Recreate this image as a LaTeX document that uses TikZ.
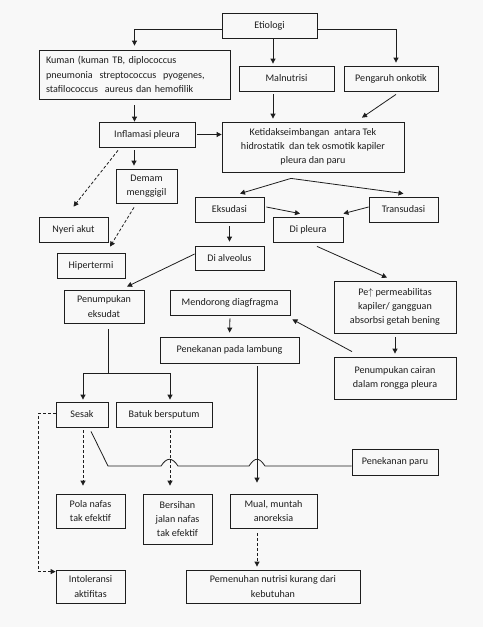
\documentclass[tikz,border=0pt]{standalone}
\usepackage{fontspec}
\setmainfont{Carlito}
\usetikzlibrary{arrows.meta}
\definecolor{bg}{RGB}{248,248,248}
\definecolor{ink}{RGB}{30,30,30}
\begin{document}
\begin{tikzpicture}[x=1pt,y=-1pt,
  box/.style={draw=ink, line width=0.8pt, inner sep=0pt, align=center, text=ink,
    font=\fontsize{10.1}{14.3}\selectfont},
  arr/.style={draw=ink, line width=0.8pt, -{Triangle[length=5pt,width=5pt]}},
  darr/.style={arr, dash pattern=on 3pt off 2pt},
  ln/.style={draw=ink, line width=0.8pt}]
\fill[bg] (0,0) rectangle (483,627);
\useasboundingbox (0,0) rectangle (483,627);

% boxes
\node[box, minimum width=95pt, minimum height=25pt] (etio) at (269.5,25.5) {Etiologi};
\node[box, minimum height=49pt, inner xsep=7pt, text width=177pt, align=left] (kuman) at (134.5,74.5)
  {Kuman (kuman TB, diplococcus\\pneumonia\ \ streptococcus\ \ pyogenes,\\stafilococcus\ \ aureus dan hemofilik};
\node[box, minimum width=95pt, minimum height=25pt] (maln) at (286.5,78.5) {Malnutrisi};
\node[box, minimum width=94pt, minimum height=25pt] (peng) at (391,78.5) {Pengaruh onkotik};
\node[box, minimum width=96pt, minimum height=25pt] (infl) at (147,134.5) {Inflamasi pleura};
\node[box, minimum width=182pt, minimum height=50pt] (ketid) at (313,147)
  {Ketidakseimbangan\ \ antara Tek\\hidrostatik\ \ dan tek osmotik kapiler\\pleura dan paru};
\node[box, minimum width=61pt, minimum height=34pt] (demam) at (146.5,186) {Demam\\menggigil};
\node[box, minimum width=69pt, minimum height=25pt] (nyeri) at (73.5,229.5) {Nyeri akut};
\node[box, minimum width=68pt, minimum height=25pt] (hiper) at (91,265.5) {Hipertermi};
\node[box, minimum width=69pt, minimum height=25pt] (eksud) at (229.5,209.5) {Eksudasi};
\node[box, minimum width=69pt, minimum height=25pt] (trans) at (403.5,209.5) {Transudasi};
\node[box, minimum width=70pt, minimum height=25pt] (dipl) at (308,229.5) {Di pleura};
\node[box, minimum width=69pt, minimum height=24pt] (dialv) at (229.5,258) {Di alveolus};
\node[box, minimum width=80pt, minimum height=33pt] (penum) at (104,306.5) {Penumpukan\\eksudat};
\node[box, minimum width=120pt, minimum height=25pt] (mendo) at (230,302.5) {Mendorong diagfragma};
\node[box, minimum width=122pt, minimum height=52pt] (pe) at (395,307)
  {Pe$\uparrow$ permeabilitas\\kapiler/ gangguan\\absorbsi getah bening};
\node[box, minimum width=139pt, minimum height=26pt] (lamb) at (229.5,350) {Penekanan pada lambung};
\node[box, minimum width=122pt, minimum height=42pt] (cair) at (395,378) {Penumpukan cairan\\dalam rongga pleura};
\node[box, minimum width=52pt, minimum height=25pt] (sesak) at (82,414.5) {Sesak};
\node[box, minimum width=96pt, minimum height=25pt] (batuk) at (164,414.5) {Batuk bersputum};
\node[box, minimum width=86pt, minimum height=26pt] (paru) at (395,462) {Penekanan paru};
\node[box, minimum width=69pt, minimum height=34pt] (pola) at (90.5,511) {Pola nafas\\tak efektif};
\node[box, minimum width=69pt, minimum height=50pt] (bers) at (177.5,519) {Bersihan\\jalan nafas\\tak efektif};
\node[box, minimum width=87pt, minimum height=34pt] (mual) at (273.5,511) {Mual, muntah\\anoreksia};
\node[box, minimum width=69pt, minimum height=33pt] (intol) at (90.5,586.5) {Intoleransi\\aktifitas};
\node[box, minimum width=174pt, minimum height=33pt] (pemen) at (273,586.5) {Pemenuhan nutrisi kurang dari\\kebutuhan};

% connectors from Etiologi
\draw[arr, shorten >=4pt] ([yshift=-4pt]etio.west) -| (kuman.north);
\draw[arr, shorten >=3pt] ([yshift=-4pt]etio.east) -| ([xshift=5pt]peng.north);
\draw[arr, shorten >=2pt] ([xshift=3.5pt]etio.south) -- ([xshift=3.5pt]etio.south |- maln.north);

\draw[arr, shorten <=6pt] (kuman.south) -- (kuman.south |- infl.north);
\draw[arr, shorten <=3pt, shorten >=3pt] ([xshift=-13.5pt]maln.south) -- ([xshift=-13.5pt]maln.south |- ketid.north);
\draw[arr] ([xshift=5pt,yshift=-3pt]peng.south) -- ([xshift=49pt,yshift=4pt]ketid.north);
\draw[arr, shorten <=2pt] (infl.east) -- (ketid.west |- infl.east);

\draw[darr] ([xshift=-29pt,yshift=-3pt]infl.south) -- ([yshift=10pt]nyeri.north);
\draw[arr, shorten <=3pt, shorten >=3pt] ([xshift=-13pt]infl.south) -- ([xshift=-13pt]infl.south |- demam.north);
\draw[darr] ([xshift=-12.5pt,yshift=-4pt]demam.south) -- ([xshift=19pt,yshift=6pt]hiper.north);

% split from Ketidakseimbangan
\coordinate (split) at ([xshift=-22pt,yshift=-6pt]ketid.south);
\draw[arr] (split) -- ([xshift=10.5pt,yshift=3pt]eksud.north);
\draw[arr] (split) -- ([yshift=3pt]trans.north);

\draw[arr] ([xshift=2pt,yshift=2.5pt]eksud.east) -- ([xshift=-8pt,yshift=3pt]dipl.north);
\draw[arr] ([yshift=2.5pt]trans.west) -- ([yshift=3pt]dipl.north east);
\draw[arr, shorten <=4pt, shorten >=4pt] (eksud.south) -- (dialv.north);
\draw[arr] ([yshift=4pt]dialv.west) -- ([xshift=23pt,yshift=3pt]penum.north);
\draw[arr] ([xshift=9pt,yshift=-4pt]dipl.south) -- ([xshift=-8pt,yshift=3pt]pe.north);

\draw[arr, shorten <=3pt, shorten >=4pt] (mendo.south) -- (lamb.north);
\draw[arr] ([xshift=-43pt,yshift=5pt]cair.north) -- ([xshift=2pt,yshift=-4pt]mendo.south east);
\draw[arr, shorten <=4pt, shorten >=3pt] (pe.south) -- (cair.north);

% Penumpukan eksudat to Sesak / Batuk
\coordinate (jn) at ([xshift=4pt]penum.south |- 0,373);
\draw[ln, shorten <=6pt] ([xshift=4pt]penum.south) -- (jn);
\draw[arr, shorten >=2pt] (jn) -| ([xshift=1pt]sesak.north);
\draw[arr, shorten >=2pt] (jn) -| ([xshift=6pt]batuk.north);

% Penekanan pada lambung to Mual
\draw[arr, shorten <=3pt, shorten >=11pt] ([xshift=27.5pt]lamb.south) -- ([xshift=27.5pt]lamb.south |- mual.north);

% dashed from Sesak / Batuk / Mual
\draw[darr, shorten <=3pt, shorten >=8pt] ([xshift=1pt]sesak.south) -- ([xshift=1pt]sesak.south |- pola.north);
\draw[darr, shorten <=3pt, shorten >=8pt] ([xshift=6pt]batuk.south) -- ([xshift=6pt]batuk.south |- bers.north);
\coordinate (lft) at ([xshift=-17pt,yshift=1.5pt]sesak.west);
\draw[darr] ([yshift=1.5pt]sesak.west) -- (lft) |- ([yshift=-2pt]intol.north west);
\draw[darr, shorten <=5pt, shorten >=3pt] ([xshift=-16.5pt]mual.south) -- ([xshift=-16.5pt]mual.south |- pemen.north);

% Penekanan paru to Sesak with hops
\coordinate (h1r) at (265,466);
\coordinate (h1l) at (249,466);
\coordinate (h2r) at (178,466);
\coordinate (h2l) at (161,466);
\coordinate (kn) at (108,466);
\draw[ln] ([yshift=-4pt]paru.west) -- (h1r) .. controls (259,457) and (255,457) .. (h1l) -- (h2r)
  .. controls (172,457) and (167,457) .. (h2l) -- (kn) -- ([xshift=9pt,yshift=-4pt]sesak.south);
\end{tikzpicture}
\end{document}
